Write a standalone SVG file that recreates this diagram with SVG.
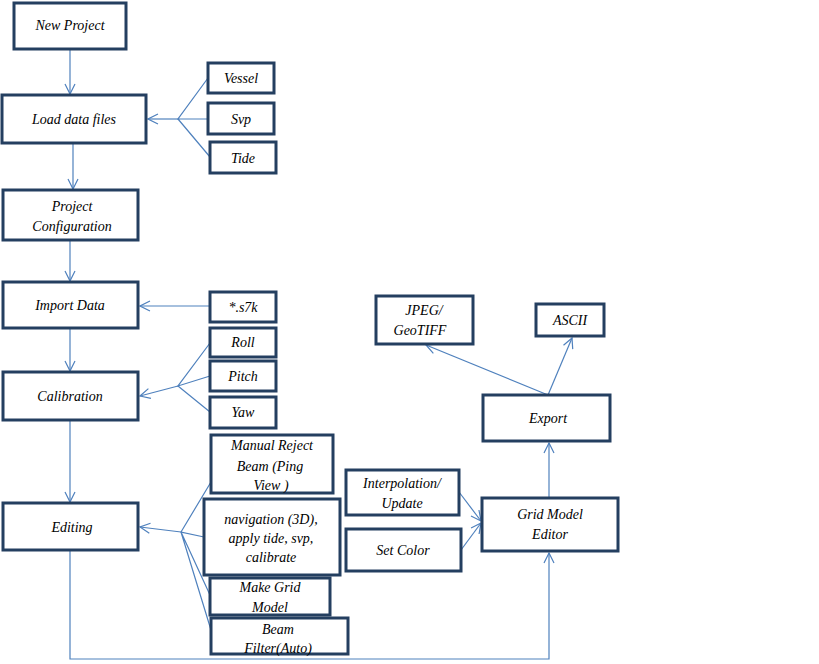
<svg xmlns="http://www.w3.org/2000/svg" width="819" height="664" viewBox="0 0 819 664">
<style>
.b{fill:#fff;stroke:#243f60;stroke-width:3}
.t{font-family:"Liberation Serif",serif;font-style:italic;font-size:14px;text-anchor:middle;fill:#000}
.c{stroke:#4f81bd;stroke-width:1.2;fill:none}
</style>
<defs><marker id="a" markerWidth="12" markerHeight="12" refX="11" refY="6" orient="auto" markerUnits="userSpaceOnUse"><path d="M1,1 L11,6 L1,11" fill="none" stroke="#4f81bd" stroke-width="1.2"/></marker></defs>
<rect width="819" height="664" fill="#fff"/>
<g id="connectors" class="c">
<path d="M70,49 V94" marker-end="url(#a)"/>
<path d="M73,143 V189" marker-end="url(#a)"/>
<path d="M70,240 V281" marker-end="url(#a)"/>
<path d="M70,328 V371" marker-end="url(#a)"/>
<path d="M70,420 V502" marker-end="url(#a)"/>
<path d="M178,119 H148" marker-end="url(#a)"/>
<path d="M208,78 L178,119 L208,119 M178,119 L210,157"/>
<path d="M210,306 H140" marker-end="url(#a)"/>
<path d="M178,386 L140,396" marker-end="url(#a)"/>
<path d="M210,343 L178,386 L210,376 M178,386 L210,412"/>
<path d="M181,532 L140,527" marker-end="url(#a)"/>
<path d="M211,482 L181,532 L204,537 M181,532 L210,595 M181,532 L211,630"/>
<path d="M70,550 V659 H549 V553" marker-end="url(#a)"/>
<path d="M459,492 L481,521" marker-end="url(#a)"/>
<path d="M461,550 L481,523" marker-end="url(#a)"/>
<path d="M549,498 V443" marker-end="url(#a)"/>
<path d="M548,395 L572,338" marker-end="url(#a)"/>
<path d="M548,395 L426,345" marker-end="url(#a)"/>
</g>
<g id="new-project"><rect class="b" x="14" y="3" width="112" height="46"/><text class="t" x="70" y="30">New Project</text></g>
<g id="load-data"><rect class="b" x="2" y="95" width="144" height="48"/><text class="t" x="74" y="124">Load  data  files</text></g>
<g id="vessel"><rect class="b" x="208" y="63" width="66" height="30"/><text class="t" x="241" y="83">Vessel</text></g>
<g id="svp"><rect class="b" x="208" y="103" width="66" height="31"/><text class="t" x="241" y="124">Svp</text></g>
<g id="tide"><rect class="b" x="210" y="142" width="66" height="31"/><text class="t" x="243" y="163">Tide</text></g>
<g id="project-config"><rect class="b" x="3" y="190" width="135" height="50"/><text class="t" x="72" y="211">Project</text><text class="t" x="72" y="231">Configuration</text></g>
<g id="import-data"><rect class="b" x="3" y="282" width="135" height="46"/><text class="t" x="70" y="310">Import Data</text></g>
<g id="s7k"><rect class="b" x="210" y="292" width="66" height="30"/><text class="t" x="243" y="312">*.s7k</text></g>
<g id="calibration"><rect class="b" x="3" y="372" width="135" height="48"/><text class="t" x="70" y="401">Calibration</text></g>
<g id="roll"><rect class="b" x="210" y="328" width="66" height="29"/><text class="t" x="243" y="347">Roll</text></g>
<g id="pitch"><rect class="b" x="210" y="361" width="66" height="30"/><text class="t" x="243" y="381">Pitch</text></g>
<g id="yaw"><rect class="b" x="210" y="397" width="66" height="31"/><text class="t" x="243" y="417">Yaw</text></g>
<g id="editing"><rect class="b" x="3" y="503" width="135" height="47"/><text class="t" x="72" y="532">Editing</text></g>
<g id="manual-reject"><rect class="b" x="211" y="435" width="122" height="58"/><text class="t" x="272" y="450">Manual Reject</text><text class="t" x="270" y="471">Beam (Ping</text><text class="t" x="271" y="490">View )</text></g>
<g id="navigation"><rect class="b" x="204" y="499" width="136" height="76"/><text class="t" x="271" y="524">navigation (3D),</text><text class="t" x="271" y="543">apply tide, svp,</text><text class="t" x="271" y="562">calibrate</text></g>
<g id="make-grid"><rect class="b" x="210" y="578" width="120" height="37"/><text class="t" x="270" y="592">Make Grid</text><text class="t" x="270" y="612">Model</text></g>
<g id="beam-filter"><rect class="b" x="211" y="618" width="137" height="36"/><text class="t" x="278" y="634">Beam</text><text class="t" x="278" y="653">Filter(Auto)</text></g>
<g id="interpolation"><rect class="b" x="346" y="470" width="113" height="45"/><text class="t" x="402" y="488">Interpolation/</text><text class="t" x="402" y="508">Update</text></g>
<g id="set-color"><rect class="b" x="346" y="529" width="115" height="42"/><text class="t" x="403" y="555">Set Color</text></g>
<g id="grid-model-editor"><rect class="b" x="482" y="498" width="136" height="53"/><text class="t" x="550" y="519">Grid Model</text><text class="t" x="550" y="539">Editor</text></g>
<g id="export"><rect class="b" x="483" y="395" width="127" height="46"/><text class="t" x="548" y="423">Export</text></g>
<g id="jpeg"><rect class="b" x="376" y="296" width="97" height="48"/><text class="t" x="424" y="315">JPEG/</text><text class="t" x="420" y="335">GeoTIFF</text></g>
<g id="ascii"><rect class="b" x="536" y="304" width="68" height="32"/><text class="t" x="570" y="325">ASCII</text></g>
</svg>
